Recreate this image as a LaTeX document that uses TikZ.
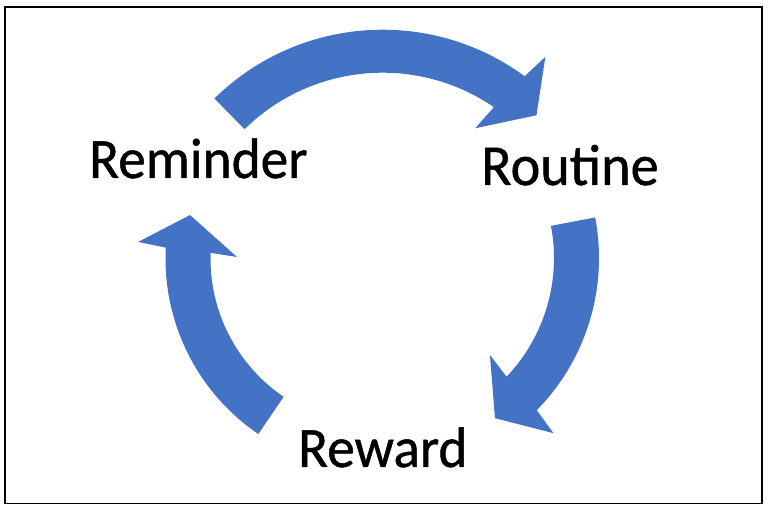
\documentclass[tikz,border=0pt]{standalone}
\usepackage{fontspec}
\setmainfont{Carlito}
\newfontfamily\stagefont[FakeStretch=0.97, FakeBold=0.8]{Carlito}
\usepackage{tikz}
\usetikzlibrary{calc}
\definecolor{loopblue}{RGB}{68,114,196}
\tikzset{
  stage/.style={inner sep=0pt, anchor=base west, text=black, font=\stagefont\fontsize{57}{68}\selectfont},
  bigstage/.style={stage, font=\stagefont\fontsize{58}{70}\selectfont},
  loopband/.style={fill=loopblue, draw=none},
  frame/.style={draw=black, line width=1.7pt}
}

\begin{document}
\begin{tikzpicture}[x=1pt, y=1pt]
\useasboundingbox (0,0) rectangle (768,510);
\draw[frame] (5,6.5) rectangle (762,503);
\coordinate (ctop) at (382.6,240.3);
\coordinate (cright) at (382,251.9);
\coordinate (cleft) at (377.5,251.3);
\node[stage] (reminder) at (89,332) {Reminder};
\node[bigstage] (routine) at (481,325) {Routine};
\node[stage] (reward) at (298,43) {Reward};
\fill[loopband] ($(ctop)+(134.5:240)$) arc[start angle=134.5, end angle=53.7, radius=240pt] -- ($(ctop)+(52.6:268)$) -- ($(ctop)+(45.1:218)$) -- ($(ctop)+(56.8:169)$) -- ($(ctop)+(55.6:197)$) arc[start angle=55.6, end angle=134.5, radius=197pt] -- cycle;
\fill[loopband] ($(cright)+(10.8:217)$) arc[start angle=10.8, end angle=-44.5, radius=217pt] -- ($(cright)+(-45.6:245)$) -- ($(cright)+(-54.8:196)$) -- ($(cright)+(-41.9:145)$) -- ($(cright)+(-43.6:172)$) arc[start angle=-43.6, end angle=10.8, radius=172pt] -- cycle;
\fill[loopband] ($(cleft)+(235.8:212)$) arc[start angle=235.8, end angle=177, radius=212pt] -- ($(cleft)+(176:240)$) -- ($(cleft)+(166.9:192.5)$) -- ($(cleft)+(179.3:140.5)$) -- ($(cleft)+(178:167)$) arc[start angle=178, end angle=235.8, radius=167pt] -- cycle;
\end{tikzpicture}
\end{document}
